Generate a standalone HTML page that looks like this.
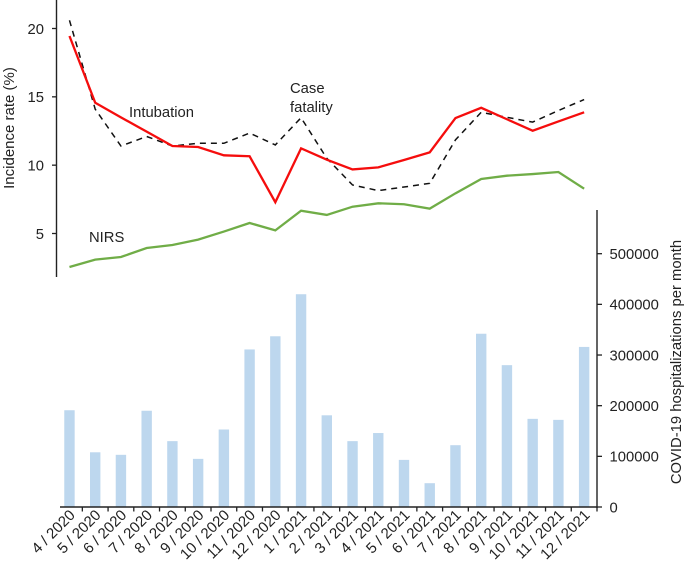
<!DOCTYPE html>
<html lang="en">
<head>
<meta charset="utf-8">
<title>COVID-19 incidence rates and hospitalizations</title>
<style>
html,body{margin:0;padding:0;background:#fff;width:685px;height:562px;overflow:hidden}
svg{display:block}
text{font-family:"Liberation Sans",Arial,sans-serif;font-size:14.8px;fill:#222}
</style>
</head>
<body>
<svg id="chart" width="685" height="562" viewBox="0 0 685 562" xmlns="http://www.w3.org/2000/svg"></svg>
<script>
const categories = ["4 / 2020","5 / 2020","6 / 2020","7 / 2020","8 / 2020","9 / 2020","10 / 2020","11 / 2020","12 / 2020","1 / 2021","2 / 2021","3 / 2021","4 / 2021","5 / 2021","6 / 2021","7 / 2021","8 / 2021","9 / 2021","10 / 2021","11 / 2021","12 / 2021"];
const hospitalizations = [191000,108000,103000,190000,130000,95000,153000,311000,337000,420000,181000,130000,146000,93000,47000,122000,342000,280000,174000,172000,316000];
const intubation = [19.45,14.57,13.5,12.45,11.4,11.33,10.72,10.65,7.29,11.23,10.4,9.69,9.84,10.38,10.94,13.45,14.2,13.36,12.52,13.2,13.87];
const caseFatality = [20.6,14.1,11.4,12.1,11.4,11.6,11.6,12.35,11.48,13.47,10.5,8.55,8.14,8.4,8.67,11.85,13.87,13.5,13.15,14.0,14.8];
const nirs = [2.55,3.09,3.28,3.94,4.16,4.55,5.14,5.77,5.23,6.67,6.36,6.96,7.21,7.14,6.82,7.94,8.99,9.23,9.35,9.5,8.28];
const leftTicks = [5,10,15,20];
const rightTicks = [0,100000,200000,300000,400000,500000];

const NS = "http://www.w3.org/2000/svg";
const svg = document.getElementById("chart");
const step = (597 - 56.6) / categories.length;
function xBand(i){ return 56.6 + step * i; }
function xCenter(i){ return xBand(i) + step / 2; }
function yLeft(v){ return 233.5 - (v - 5) * (205 / 15); }
function yRight(v){ return 507 - v * (253.3 / 500000); }
function make(tag, attrs, parent){
  const el = document.createElementNS(NS, tag);
  for (const k in attrs) el.setAttribute(k, attrs[k]);
  (parent || svg).appendChild(el);
  return el;
}
function group(name){
  const g = make("g", {});
  
  
  return g;
}

/* bars */
const barsGroup = group('hospitalization-bars');
hospitalizations.forEach(function(v, i){
  const r = make("rect", {x: xCenter(i) - 5.2, y: yRight(v), width: 10.4, height: 507 - yRight(v), fill: "#bdd7ee"}, barsGroup);
  
  
});

/* series lines */
function seriesPoints(values){
  return values.map(function(v, i){ return xCenter(i).toFixed(2) + "," + yLeft(v).toFixed(2); }).join(" ");
}
const fatalityLine = make("polyline", {points: seriesPoints(caseFatality), fill: "none", stroke: "#111", "stroke-width": 1.5, "stroke-dasharray": "6 5"});


const intubationLine = make("polyline", {points: seriesPoints(intubation), fill: "none", stroke: "#f50d0d", "stroke-width": 2.3});


const nirsLine = make("polyline", {points: seriesPoints(nirs), fill: "none", stroke: "#70ad47", "stroke-width": 2.3});



/* left axis */
const leftAxis = group('left-y-axis');
make("line", {x1: 56.5, y1: 0, x2: 56.5, y2: 277, stroke: "#222", "stroke-width": 1.4}, leftAxis);
leftTicks.forEach(function(v){
  make("line", {x1: 52, y1: yLeft(v), x2: 56.5, y2: yLeft(v), stroke: "#222", "stroke-width": 1.3}, leftAxis);
  const t = make("text", {x: 44, y: yLeft(v) + 5.3, "text-anchor": "end"}, leftAxis);
  t.textContent = String(v);
  
  
});

/* right axis */
const rightAxis = group('right-y-axis');
make("line", {x1: 597, y1: 210, x2: 597, y2: 508, stroke: "#222", "stroke-width": 1.4}, rightAxis);
rightTicks.forEach(function(v){
  make("line", {x1: 597, y1: yRight(v), x2: 602, y2: yRight(v), stroke: "#222", "stroke-width": 1.3}, rightAxis);
  const t = make("text", {x: 609.5, y: yRight(v) + 5.3}, rightAxis);
  t.textContent = String(v);
  
  
});

/* x axis */
const xAxis = group('x-axis');
make("line", {x1: 60, y1: 507, x2: 597, y2: 507, stroke: "#222", "stroke-width": 1.4}, xAxis);
categories.forEach(function(c, i){
  const tx = xBand(i + 1);
  make("line", {x1: tx, y1: 507, x2: tx, y2: 511.5, stroke: "#222", "stroke-width": 1.3}, xAxis);
  const lx = xCenter(i) + 6.5;
  const ly = 516;
  const t = make("text", {x: lx, y: ly, "text-anchor": "end", transform: "rotate(-45 " + lx + " " + ly + ")", style: "font-size:15px"}, xAxis);
  t.textContent = c;
  
  
});
</script>
<script>
/* static annotation labels and axis titles */
(function(){
  const s = document.getElementById("chart");
  s.insertAdjacentHTML("beforeend",
    '<text x="14" y="128" text-anchor="middle" transform="rotate(-90 14 128)" style="font-size:15px">Incidence rate (%)</text>' +
    '<text x="681" y="362" text-anchor="middle" transform="rotate(-90 681 362)">COVID-19 hospitalizations per month</text>' +
    '<text x="129" y="117">Intubation</text>' +
    '<text x="290" y="93">Case</text>' +
    '<text x="290" y="112">fatality</text>' +
    '<text x="89" y="242">NIRS</text>');
})();
</script>
</body>
</html>
